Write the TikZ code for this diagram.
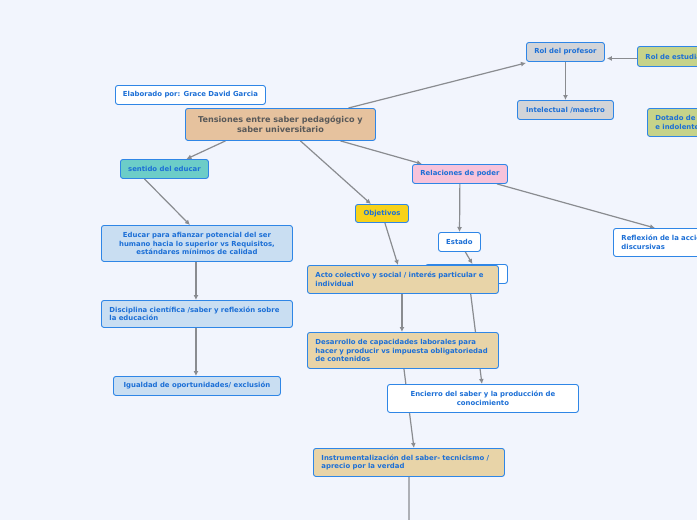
\documentclass[tikz,border=0pt]{standalone}
\usepackage{fontspec}
\setmainfont{DejaVu Sans}
\pgfdeclarelayer{bg}\pgfdeclarelayer{edges}
\pgfsetlayers{bg,edges,main}
\definecolor{pagebg}{HTML}{F2F5FD}
\definecolor{txt}{HTML}{1C6FD6}
\definecolor{bord}{HTML}{2F86E6}
\definecolor{edge}{HTML}{8A8C90}
\definecolor{tan}{HTML}{E6C29E}
\definecolor{sand}{HTML}{E8D4A8}
\definecolor{grayf}{HTML}{D2D4D8}
\definecolor{greenf}{HTML}{C6D38A}
\definecolor{tealf}{HTML}{6CCDC8}
\definecolor{yellowf}{HTML}{F7D21A}
\definecolor{pinkf}{HTML}{F7C3DB}
\definecolor{bluef}{HTML}{C9DEF2}
\tikzset{
 box/.style={draw=bord,line width=0.9pt,rounded corners=2.5pt,fill=white,text=txt,font=\fontsize{6.9}{8.6}\selectfont\bfseries,inner sep=0pt,anchor=north west},
 conn/.style={draw=edge,line width=1.2pt,-{Latex[length=5pt,width=5pt]}},
 plain/.style={draw=edge,line width=1.2pt}
}
\usetikzlibrary{arrows.meta}
\newcommand{\bx}[7]{% name, x1,y1,x2,y2, style, text
 \node[box,#6,minimum width={(#4-#2)*1pt},minimum height={(#5-#3)*1pt}] (#1) at (#2,#3) {#7};}
\newcommand{\lt}{\hspace*{8pt}}
\begin{document}
\begin{tikzpicture}[x=1pt,y=-1pt]
\begin{pgfonlayer}{bg}
\fill[pagebg] (0,0) rectangle (697,520);
\end{pgfonlayer}
\useasboundingbox (0,0) rectangle (697,520);
\begin{scope}
\clip (0,0) rectangle (697,520);
\bx{elab}{115}{85}{265}{104}{}{Elaborado por: Grace David Garcia}
\bx{main}{185}{108}{375}{140}{fill=tan,text=black!65,font=\fontsize{8.1}{10}\selectfont\bfseries,align=center}{Tensiones entre saber pedagógico y\\saber universitario}
\bx{prof}{526}{42}{604}{61}{fill=grayf}{Rol del profesor}
\bx{intel}{517}{100}{613}{119}{fill=grayf}{Intelectual /maestro}
\node[box,fill=greenf,minimum width=100pt,minimum height=20pt,align=left,text width=100pt] (estu) at (637,46) {\lt Rol de estudiante};
\node[box,fill=greenf,minimum width=90pt,minimum height=28pt,align=left,text width=90pt] (dot) at (647,108) {\lt Dotado de razón\\\lt e indolente};
\bx{sent}{120}{159}{208}{178}{fill=tealf}{sentido del educar}
\bx{obj}{355}{204}{408}{222}{fill=yellowf}{Objetivos}
\bx{rel}{412}{164}{507}{183}{fill=pinkf}{Relaciones de poder}
\node[box,minimum width=130pt,minimum height=28pt,align=left,text width=130pt] (refl) at (613,228) {\lt Reflexión de la acción y\\\lt discursivas};
\bx{est}{438}{232}{480}{251}{}{Estado}
\bx{hid}{425}{264}{507}{283}{}{}
\bx{encierro}{387}{384}{578}{412}{align=center}{Encierro del saber y la producción de\\conocimiento}
\bx{acto}{307}{265}{498}{293}{fill=sand,align=left,text width=191pt}{\lt Acto colectivo y social / interés particular e\\\lt individual}
\bx{desa}{307}{332}{498}{368}{fill=sand,align=left,text width=191pt}{\lt Desarrollo de capacidades laborales para\\\lt hacer y producir vs impuesta obligatoriedad\\\lt de contenidos}
\bx{instr}{313}{448}{504}{476}{fill=sand,align=left,text width=191pt}{\lt Instrumentalización del saber- tecnicismo /\\\lt aprecio por la verdad}
\bx{educ}{101}{225}{292}{261}{fill=bluef,align=center}{Educar para afianzar potencial del ser\\humano hacia lo superior vs Requisitos,\\estándares mínimos de calidad}
\bx{disc}{101}{300}{292}{327}{fill=bluef,align=left,text width=191pt}{\lt Disciplina científica /saber y reflexión sobre\\\lt la educación}
\bx{igu}{113}{376}{280}{395}{fill=bluef}{Igualdad de oportunidades/ exclusión}
\coordinate (off) at (409,525);
\begin{pgfonlayer}{edges}
\draw[conn] ([xshift=68pt]main.north) -- ([yshift=-1pt]prof.south west);
\draw[conn] ([yshift=-2pt]estu.west) -- ([xshift=2pt,yshift=-2pt]prof.east|-estu.west);
\draw[plain] ([xshift=-40pt]estu.south east) -- ++(12,12);
\draw[conn] (prof) -- (intel);
\draw[conn] ([xshift=-55pt]main.south) -- ([xshift=22pt]sent.north);
\draw[conn] ([xshift=20pt]main.south) -- ([xshift=-11pt]obj.north);
\draw[conn] ([xshift=60pt]main.south) -- ([xshift=-38pt]rel.north);
\draw[conn] (rel) -- (est);
\draw[conn] ([xshift=37pt]rel.south) -- ([xshift=42pt]refl.north west);
\draw[conn] (est) -- ([xshift=6pt]hid.north);
\draw[conn] (obj) -- ([xshift=-5pt]acto.north);
\draw[conn] ([xshift=-1pt]acto.south) -- ([xshift=-1pt]desa.north);
\draw[conn] ([xshift=3pt]hid.south) -- ([xshift=-1pt]encierro.north);
\draw[conn] ([xshift=1pt]desa.south) -- ([xshift=5pt]instr.north);
\draw[plain] (instr) -- (off);
\draw[conn] ([xshift=-20pt]sent.south) -- ([xshift=-7pt]educ.north);
\draw[conn] ([xshift=-1pt]educ.south) -- ([xshift=-1pt]disc.north);
\draw[conn] ([xshift=-1pt]disc.south) -- ([xshift=-1pt]igu.north);
\end{pgfonlayer}
\end{scope}
\end{tikzpicture}
\end{document}
